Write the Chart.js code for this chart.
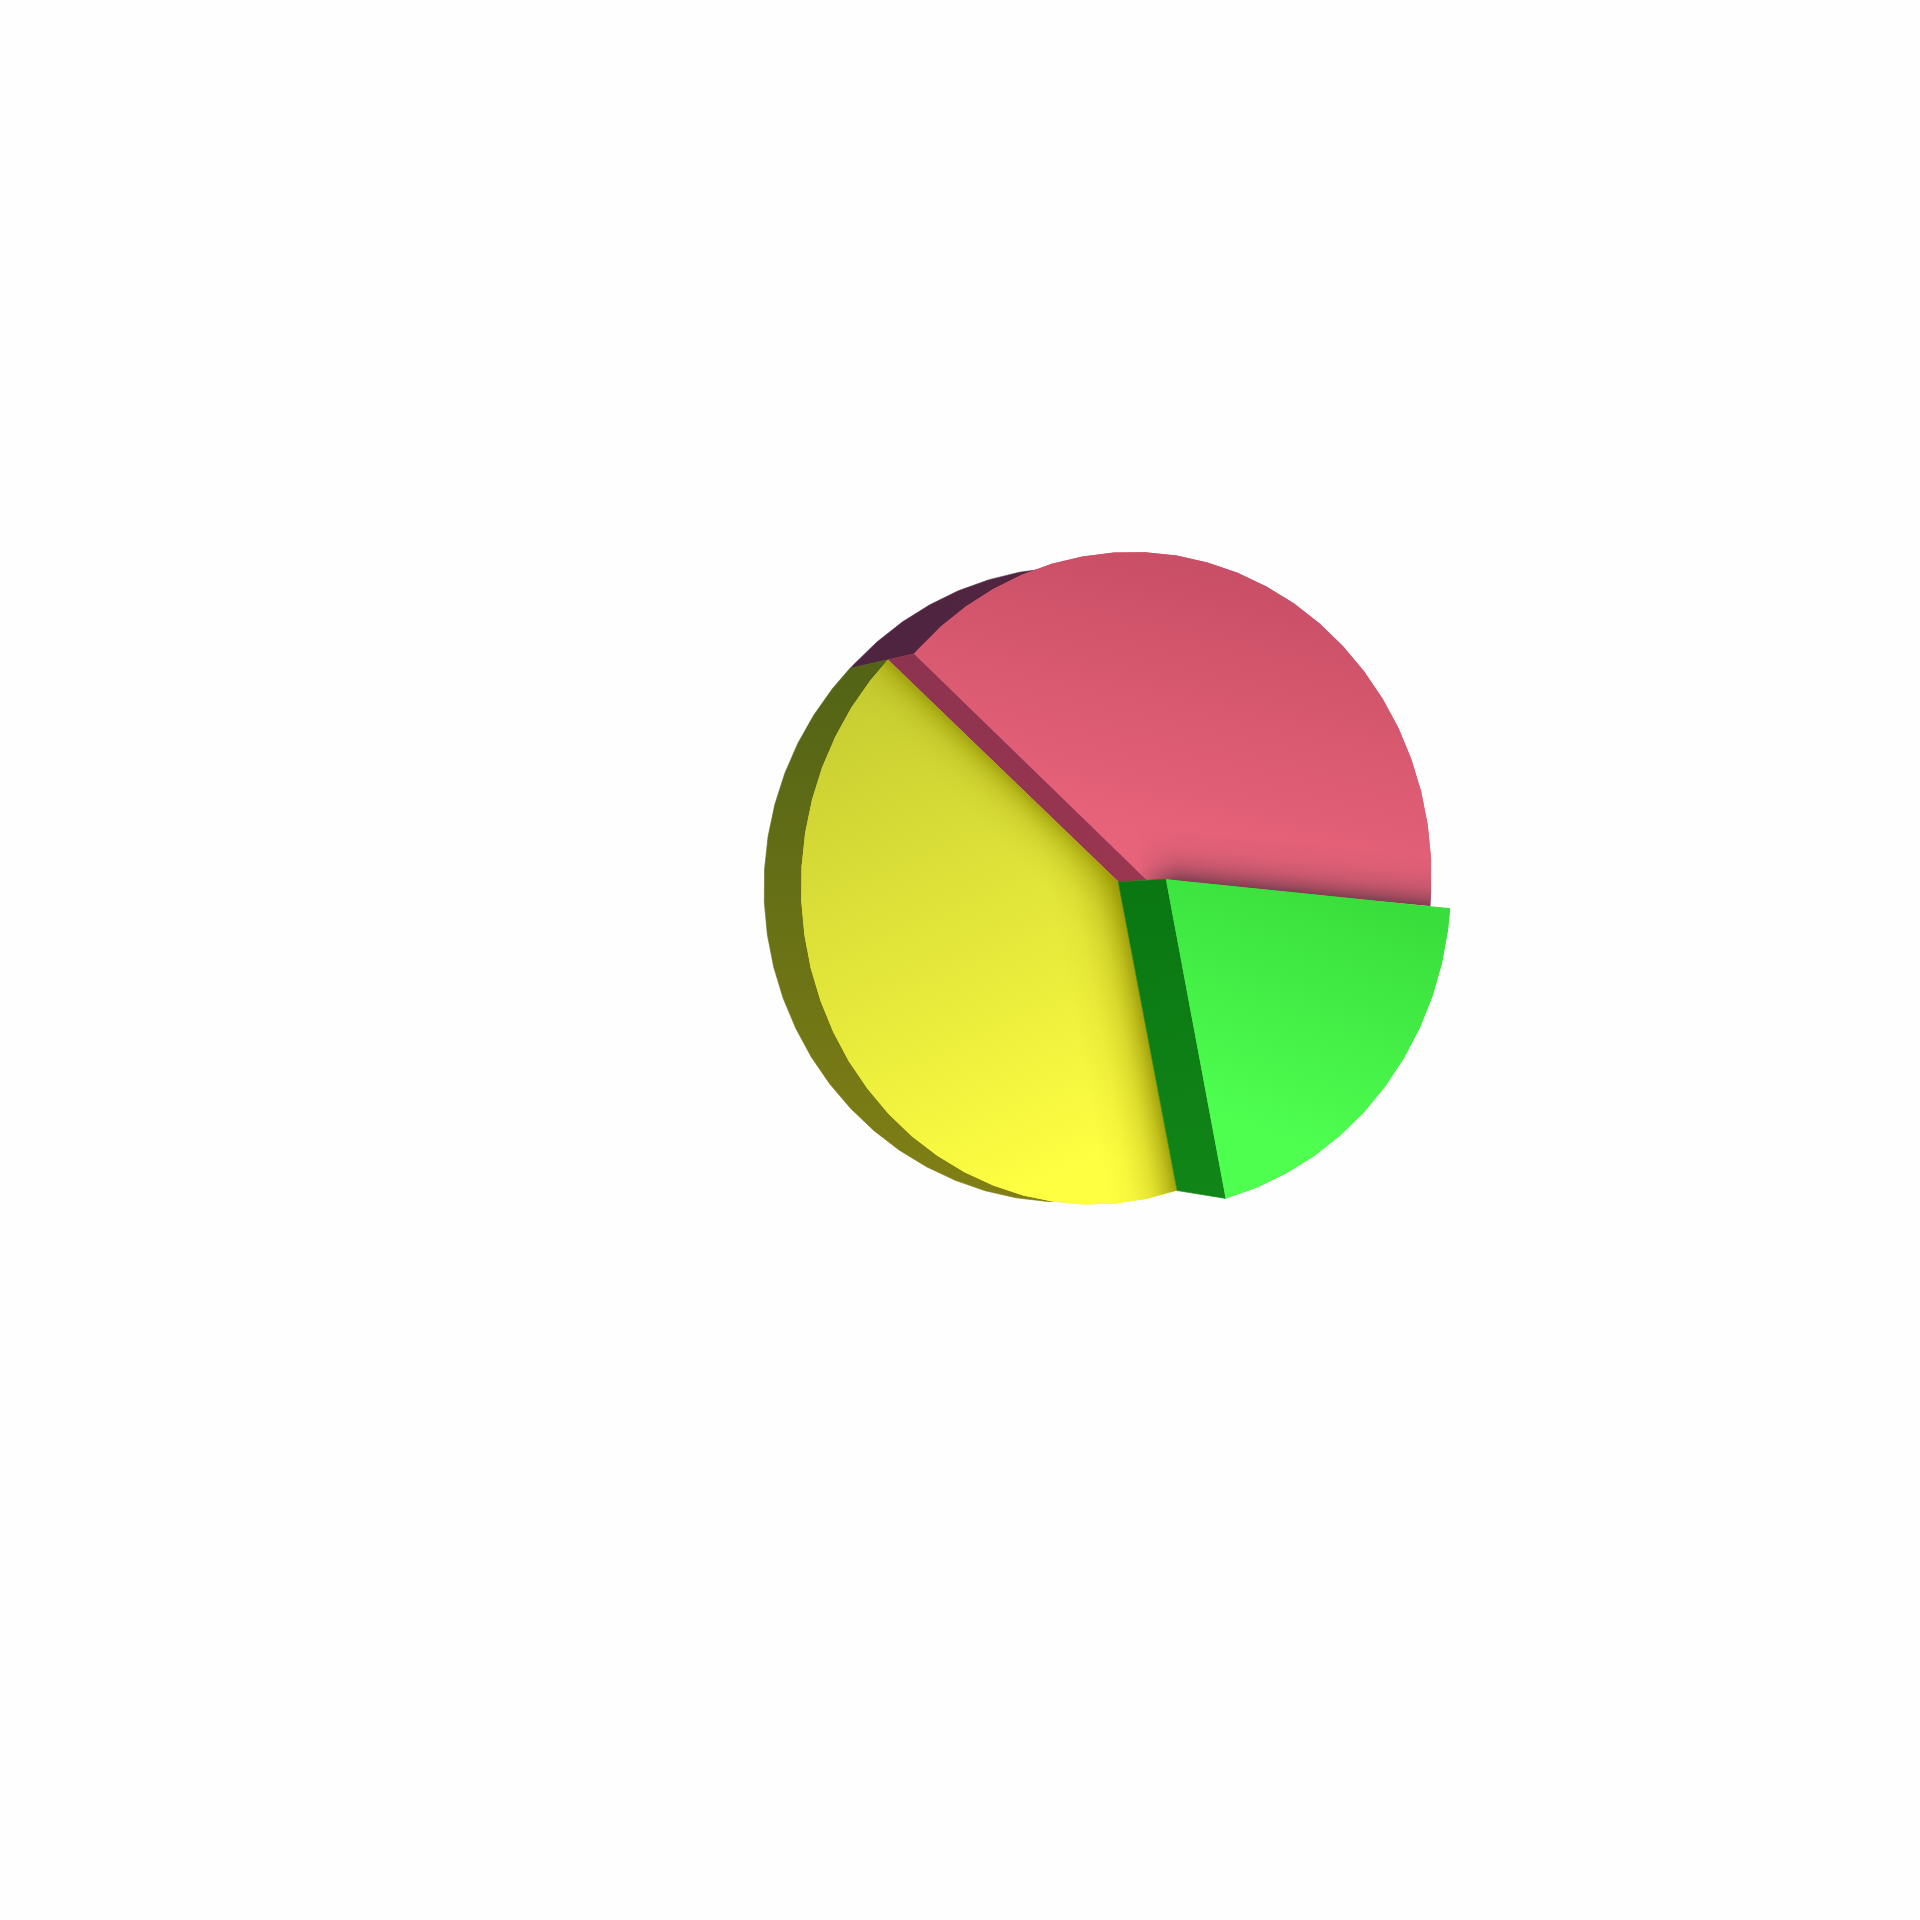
<!DOCTYPE html>
<html>
<head>
<meta charset="utf-8">
<style>html,body{margin:0;padding:0;background:#fefefe}canvas{display:block}</style>
<script src="https://cdn.jsdelivr.net/npm/chart.js@4"></script>
</head>
<body>
<canvas id="c" width="1920" height="1920"></canvas>
<script>
const categories = ['Red', 'Green', 'Yellow'];
const values = [39.25, 19.36, 41.39];
const sliceColors = ['#d85870', '#45ea45', '#e6e640'];

// Projection of each exploded slice: an ellipse per face (front and back disc)
const projection = [
  { apex:[1146.7,880],  front:{c:[1132,876], rx:299.5, ry:324, phase:[-0.7,0]},
    backApex:[1146.7,880], back:{c:[1075,880], rx:305, ry:313, phase:[-1.5,-1.5]} },
  { apex:[1166,879.3],  front:{c:[1147,884.5], rx:304, ry:325, phase:[-1.1,0]},
    backApex:[1118.3,881.7], back:null },
  { apex:[1118.3,881.7], front:{c:[1092,886.5], rx:291, ry:318, phase:[-2,1.5]},
    backApex:[1118.3,881.7], back:{c:[1065,888], rx:301, ry:314, phase:[0.4,0.4]} }
];
const faceGradients = [
  { from:[1170,560], to:[1110,830], stops:['#c94f66','#e7637a'] },
  { from:[1340,890], to:[1250,1130], stops:['#3ade3c','#4eff50'] },
  { from:[880,690], to:[1090,1170], stops:['#c8ce32','#ffff42'] }
];
const sideGradients = {
  redDisc:{ from:[900,600], to:[1000,600], stops:['#4f2440','#502540'] },
  redWall:{ from:[900,655], to:[1130,880], stops:['#8d3350','#9a3650'] },
  greenWall:{ from:[1140,880], to:[1200,1195], stops:['#0a7712','#118518'] },
  yellowDisc:{ from:[900,680], to:[900,1190], stops:['#536416','#807f15'] }
};

const rad = d => d*Math.PI/180, deg = r => r*180/Math.PI;
function pointOn(e, th, t){
  const ph = rad(th + e.phase[0] + (e.phase[1]-e.phase[0])*t);
  return [e.c[0]+e.rx*Math.cos(ph), e.c[1]+e.ry*Math.sin(ph)];
}
function arcPoints(e, a, b){
  const pts=[pointOn(e,a,0)];
  const step=6;
  const lo=Math.ceil((a-3)/step)*step+3;
  for(let v=lo; v<b; v+=step){ if(v>a) pts.push(pointOn(e,v,(v-a)/(b-a))); }
  pts.push(pointOn(e,b,1));
  return pts;
}
function tracePoly(ctx, pts){
  ctx.beginPath();
  pts.forEach((p,i)=> i?ctx.lineTo(p[0],p[1]):ctx.moveTo(p[0],p[1]));
  ctx.closePath();
}
function grad(ctx, g){
  const lg=ctx.createLinearGradient(g.from[0],g.from[1],g.to[0],g.to[1]);
  g.stops.forEach((s,i)=>lg.addColorStop(i/(g.stops.length-1),s));
  return lg;
}
function fillPoly(ctx, pts, g){
  ctx.save(); tracePoly(ctx,pts); ctx.fillStyle=grad(ctx,g); ctx.fill();
  ctx.strokeStyle=ctx.fillStyle; ctx.lineWidth=0.6; ctx.stroke(); ctx.restore();
}
function edgeShade(ctx, P, Q, inward, width, stops){
  const dx=Q[0]-P[0], dy=Q[1]-P[1], l=Math.hypot(dx,dy);
  let nx=-dy/l, ny=dx/l;
  if(nx*inward[0]+ny*inward[1]<0){nx=-nx;ny=-ny;}
  const lg=ctx.createLinearGradient(P[0],P[1],P[0]+nx*width,P[1]+ny*width);
  stops.forEach(s=>lg.addColorStop(s[0],s[1]));
  ctx.fillStyle=lg; ctx.fillRect(0,0,1920,1920);
}
function redShadow(ctx, P, Q){
  const tmp=document.createElement('canvas'); tmp.width=1920; tmp.height=1920;
  const t=tmp.getContext('2d');
  edgeShade(t,P,Q,[0,-1],50,
    [[0,'rgba(85,50,65,0.72)'],[0.15,'rgba(105,55,72,0.52)'],[0.35,'rgba(125,62,80,0.3)'],[0.65,'rgba(140,68,88,0.1)'],[1,'rgba(150,70,90,0)']]);
  t.globalCompositeOperation='destination-out';
  const fade=t.createLinearGradient(P[0]-28,0,P[0]+12,0);
  fade.addColorStop(0,'rgba(0,0,0,1)'); fade.addColorStop(1,'rgba(0,0,0,0)');
  t.fillStyle=fade; t.fillRect(0,0,1920,1920);
  ctx.drawImage(tmp,0,0);
}
function drawFace(ctx, arc, i, a, b){
  const s=projection[i], pts=arcPoints(s.front,a,b);
  const A=s.apex, Ps=pts[0], Pe=pts[pts.length-1];
  const {x,y,outerRadius:R}=arc.getProps(['x','y','outerRadius'],true);
  ctx.save();
  tracePoly(ctx,[A,...pts]);
  ctx.clip();
  // Fit the library's arc onto the projected sector
  const k=0.85*R, c1=Math.cos(rad(a)), s1=Math.sin(rad(a)), c2=Math.cos(rad(b)), s2=Math.sin(rad(b));
  const det=c1*s2-c2*s1;
  const vx=[(Ps[0]-A[0])/k,(Ps[1]-A[1])/k], vy=[(Pe[0]-A[0])/k,(Pe[1]-A[1])/k];
  const m11=(vx[0]*s2-vy[0]*s1)/det, m12=(-vx[0]*c2+vy[0]*c1)/det;
  const m21=(vx[1]*s2-vy[1]*s1)/det, m22=(-vx[1]*c2+vy[1]*c1)/det;
  ctx.save();
  ctx.transform(m11,m21,m12,m22,A[0]-m11*x-m12*y,A[1]-m21*x-m22*y);
  arc.draw(ctx);
  ctx.restore();
  ctx.fillStyle=grad(ctx,faceGradients[i]);
  ctx.fillRect(0,0,1920,1920);
  if(i===0){
    redShadow(ctx,projection[1].apex,pointOn(projection[1].front,b,0));
  }
  if(i===2){
    edgeShade(ctx,A,Pe,[-1,1],58,
      [[0,'rgba(150,150,5,0.8)'],[0.15,'rgba(160,160,10,0.55)'],[0.35,'rgba(170,170,20,0.3)'],[0.65,'rgba(185,185,30,0.1)'],[1,'rgba(190,190,40,0)']]);
    edgeShade(ctx,A,Ps,[-1,0],70,
      [[0,'rgba(150,150,5,0.88)'],[0.15,'rgba(160,158,8,0.62)'],[0.35,'rgba(172,170,15,0.35)'],[0.65,'rgba(185,182,20,0.12)'],[1,'rgba(190,190,20,0)']]);
  }
  ctx.restore();
}
const pieProjection = {
  id:'pieProjection',
  beforeDatasetsDraw(chart){
    const ctx=chart.ctx, arcs=chart.getDatasetMeta(0).data;
    const ang=arcs.map(el=>{
      const p=el.getProps(['startAngle','endAngle'],true);
      return [deg(p.startAngle),deg(p.endAngle)];
    });
    const [red,green,yellow]=projection;
    const [ra,ga,ya]=ang;
    // Back discs
    const redBack=arcPoints(red.back,ra[0],ra[1]);
    fillPoly(ctx,[...redBack,red.apex,pointOn(red.front,ra[0],0)],sideGradients.redDisc);
    const yBack=arcPoints(yellow.back,ya[0],ya[1]);
    fillPoly(ctx,[...yBack,pointOn(yellow.front,ya[1],1),yellow.apex],sideGradients.yellowDisc);
    // Red wall
    fillPoly(ctx,[red.apex,pointOn(red.front,ra[0],0),pointOn(yellow.front,ya[1],1),yellow.apex],sideGradients.redWall);
    // Faces
    drawFace(ctx,arcs[0],0,ra[0],ra[1]);
    drawFace(ctx,arcs[2],2,ya[0],ya[1]);
    // Green wall
    fillPoly(ctx,[green.backApex,green.apex,pointOn(green.front,ga[1],1),pointOn(yellow.front,ya[0],0)],sideGradients.greenWall);
    drawFace(ctx,arcs[1],1,ga[0],ga[1]);
    return false;
  }
};
new Chart(document.getElementById('c'),{
  type:'pie',
  data:{labels:categories,datasets:[{data:values,backgroundColor:sliceColors,borderWidth:0}]},
  options:{
    responsive:false,animation:false,devicePixelRatio:1,rotation:-46,
    plugins:{legend:{display:false},tooltip:{enabled:false}}
  },
  plugins:[pieProjection]
});
</script>
</body>
</html>
